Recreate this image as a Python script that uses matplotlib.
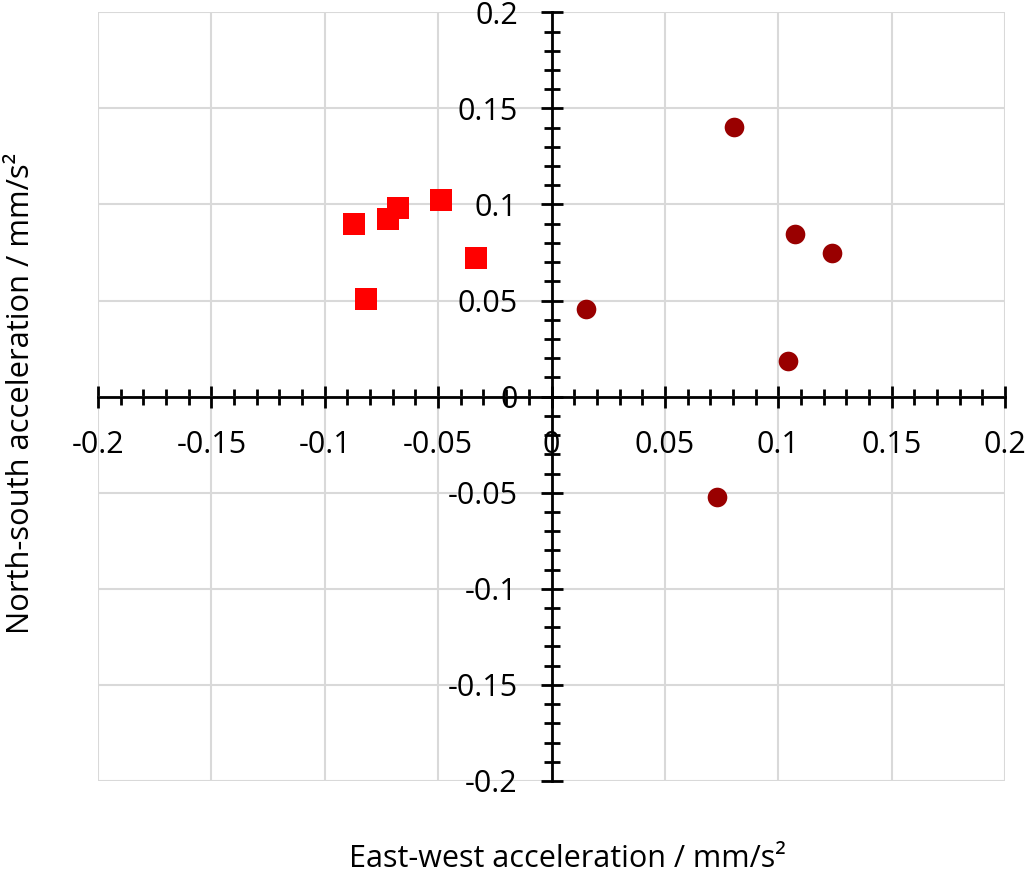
import matplotlib
matplotlib.use("Agg")
import matplotlib.pyplot as plt
from matplotlib.ticker import MultipleLocator, FuncFormatter

plt.rcParams['font.family'] = ['Open Sans', 'DejaVu Sans']

# Data (mm/s^2)
west_x = [-0.0873, -0.0719, -0.0676, -0.0487, -0.0333, -0.0817]
west_y = [0.0901, 0.0922, 0.0982, 0.1024, 0.0724, 0.0508]
east_x = [0.0804, 0.1075, 0.1235, 0.0154, 0.1042, 0.0732]
east_y = [0.1404, 0.0846, 0.0745, 0.0455, 0.0184, -0.0524]

x_label = "East-west acceleration / mm/s²"
y_label = "North-south acceleration / mm/s²"

fig = plt.figure(figsize=(10.25, 8.73), dpi=100)
ax = fig.add_axes([98/1025, 1-781/873, (1005-98)/1025, (781-12.3)/873])

ax.set_xlim(-0.2, 0.2)
ax.set_ylim(-0.2, 0.2)

ax.xaxis.set_major_locator(MultipleLocator(0.05))
ax.yaxis.set_major_locator(MultipleLocator(0.05))
ax.xaxis.set_minor_locator(MultipleLocator(0.01))
ax.yaxis.set_minor_locator(MultipleLocator(0.01))

fmt = FuncFormatter(lambda v, p: ('%g' % round(v, 4)) if abs(v) > 1e-9 else '0')
ax.xaxis.set_major_formatter(fmt)
ax.yaxis.set_major_formatter(fmt)

ax.grid(True, which='major', color='#D9D9D9', linewidth=1.5, zorder=0)
for gl in ax.get_xgridlines() + ax.get_ygridlines():
    gl.set_clip_on(False)

ax.spines['left'].set_position('zero')
ax.spines['bottom'].set_position('zero')
ax.spines['top'].set_visible(False)
ax.spines['right'].set_visible(False)
for s in ('left', 'bottom'):
    ax.spines[s].set_linewidth(2.0)
    ax.spines[s].set_color('black')
    ax.spines[s].set_zorder(2)

ax.tick_params(which='major', direction='inout', length=15.5, width=2.0,
               labelsize=22, color='black')
ax.tick_params(axis='x', which='major', pad=16)
ax.tick_params(axis='y', which='major', pad=16.5)
ax.tick_params(which='minor', direction='inout', length=12, width=2.0, color='black')

ax.scatter(west_x, west_y, marker='s', s=250, color='#FF0000', zorder=3, linewidths=0)
ax.scatter(east_x, east_y, marker='o', s=200, color='#990000', zorder=3, linewidths=0)

fig.text(567/1025, 1-859/873, x_label, ha='center', va='center', fontsize=22)
fig.text(21/1025, 1-393/873, y_label, ha='center', va='center', fontsize=22.2, rotation=90)

fig.savefig('out.png', dpi=100)
